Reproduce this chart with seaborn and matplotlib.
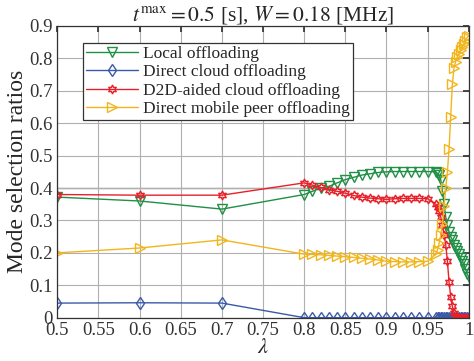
import pandas as pd
import matplotlib
matplotlib.use("Agg")
import matplotlib.pyplot as plt
import seaborn as sns

# lambda values: coarse part, then a dense sweep near 1
lam = [0.5, 0.6, 0.7, 0.8, 0.81, 0.82, 0.83, 0.84, 0.85, 0.86, 0.87, 0.88,
       0.89, 0.90, 0.91, 0.92, 0.93, 0.94, 0.95,
       0.96, 0.962, 0.964, 0.966, 0.968, 0.97, 0.972, 0.974, 0.976, 0.978,
       0.98, 0.982, 0.984, 0.986, 0.988, 0.99, 0.992, 0.994, 0.996, 0.998, 1.0]

local = [0.372, 0.36, 0.335, 0.38, 0.39, 0.40, 0.405, 0.416, 0.426, 0.433,
         0.44, 0.444, 0.448, 0.45, 0.451, 0.451, 0.451, 0.451, 0.451,
         0.45, 0.445, 0.44, 0.425, 0.39, 0.35, 0.31, 0.285, 0.265, 0.25,
         0.24, 0.225, 0.215, 0.205, 0.195, 0.185, 0.175, 0.165, 0.15, 0.135, 0.125]

cloud = [0.045, 0.046, 0.045, 0.0, 0.0, 0.0, 0.0, 0.0, 0.0, 0.0,
         0.0, 0.0, 0.0, 0.0, 0.0, 0.0, 0.0, 0.0, 0.0,
         0.0, 0.0, 0.0, 0.0, 0.0, 0.0, 0.0, 0.0, 0.0, 0.0,
         0.0, 0.0, 0.0, 0.0, 0.0, 0.0, 0.0, 0.0, 0.0, 0.0, 0.0]

d2d = [0.38, 0.378, 0.378, 0.416, 0.409, 0.402, 0.395, 0.39, 0.384, 0.377,
       0.372, 0.369, 0.367, 0.365, 0.367, 0.368, 0.368, 0.368, 0.367,
       0.35, 0.34, 0.33, 0.31, 0.285, 0.255, 0.225, 0.175, 0.11, 0.065,
       0.035, 0.015, 0.005, 0.0, 0.0, 0.0, 0.0, 0.0, 0.0, 0.0, 0.0]

peer = [0.2, 0.215, 0.24, 0.196, 0.195, 0.194, 0.192, 0.19, 0.188, 0.186,
        0.183, 0.181, 0.178, 0.174, 0.173, 0.172, 0.172, 0.173, 0.174,
        0.196, 0.21, 0.23, 0.255, 0.29, 0.345, 0.40, 0.45, 0.52, 0.62,
        0.72, 0.77, 0.79, 0.805, 0.815, 0.825, 0.835, 0.845, 0.855, 0.865, 0.87]

labels = ["Local offloading", "Direct cloud offloading",
          "D2D-aided cloud offloading", "Direct mobile peer offloading"]
colors = ["#1f9046", "#3a5aa8", "#e8202a", "#f2b61c"]
markers = ["v", "d", (6, 1, 0), ">"]

df = pd.DataFrame({"lam": lam, labels[0]: local, labels[1]: cloud,
                   labels[2]: d2d, labels[3]: peer})
long_df = df.melt(id_vars="lam", var_name="mode", value_name="ratio")

sns.set_theme(style="whitegrid")
plt.rcParams["font.family"] = ["Liberation Serif", "DejaVu Serif"]
plt.rcParams["mathtext.fontset"] = "stix"

fig = plt.figure(figsize=(4.74, 3.61), dpi=100)
ax = fig.add_axes([0.121, 0.12, 0.868, 0.808])

for lab, c, m in zip(labels, colors, markers):
    sns.lineplot(data=long_df[long_df["mode"] == lab], x="lam", y="ratio",
                 color=c, marker=m, markersize=6.5, mfc="none", mec=c, mew=1.0,
                 lw=1.0, label=lab, ax=ax, sort=False)

ax.axhline(0.4, color="0.3", lw=0.9, zorder=0.5)

ax.set_xlim(0.5, 1.0)
ax.set_ylim(0, 0.9)
xt = [0.5, 0.55, 0.6, 0.65, 0.7, 0.75, 0.8, 0.85, 0.9, 0.95, 1.0]
ax.set_xticks(xt)
ax.set_xticklabels(["0.5", "0.55", "0.6", "0.65", "0.7", "0.75", "0.8",
                    "0.85", "0.9", "0.95", "1"])
yt = [0, 0.1, 0.2, 0.3, 0.4, 0.5, 0.6, 0.7, 0.8, 0.9]
ax.set_yticks(yt)
ax.set_yticklabels(["0", "0.1", "0.2", "0.3", "0.4", "0.5", "0.6", "0.7",
                    "0.8", "0.9"])
ax.tick_params(direction="in", length=4, labelsize=13.5, colors="#333333",
               top=True, right=True)
ax.tick_params(axis="x", pad=3)
ax.tick_params(axis="y", pad=3.5)
ax.grid(True, color="#b0b0b0", lw=0.8)
for s in ax.spines.values():
    s.set_color("#333333")
    s.set_linewidth(0.9)
ax.set_facecolor("white")

ax.set_xlabel(r"$\lambda$", fontsize=16, labelpad=0)
ax.set_ylabel("Mode selection ratios", fontsize=17, labelpad=1)
ax.set_title(r"$t^{\max}=0.5$ [s], $W=0.18$ [MHz]", fontsize=15.5, pad=4)

leg = ax.legend(loc="upper left", bbox_to_anchor=(0.063, 0.94), fontsize=12.5,
                frameon=True, fancybox=False, framealpha=1, edgecolor="#333333",
                borderpad=0.15, labelspacing=0.12, handlelength=3.0,
                handletextpad=0.3, borderaxespad=0)
leg.get_frame().set_linewidth(0.9)

fig.savefig("out.png", dpi=100)
